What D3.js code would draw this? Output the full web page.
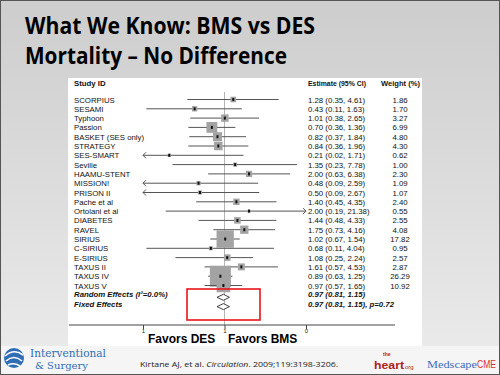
<!DOCTYPE html>
<html>
<head>
<meta charset="utf-8">
<script src="https://cdn.jsdelivr.net/npm/d3@7"></script>
<style>
  body { margin: 0; }
  svg { display: block; }
  .lbl { font-family: "Liberation Sans Narrow", "Arial Narrow", "Liberation Sans", sans-serif; font-size: 7.8px; fill: #111; }
</style>
</head>
<body>
<div class="slide"></div>
<script>
var w = 500;
var h = 375;

// study data
const studies = ["SCORPIUS", "SESAMI", "Typhoon", "Passion", "BASKET (SES only)", "STRATEGY",
  "SES-SMART", "Seville", "HAAMU-STENT", "MISSION!", "PRISON II", "Pache et al", "Ortolani et al",
  "DIABETES", "RAVEL", "SIRIUS", "C-SIRIUS", "E-SIRIUS", "TAXUS II", "TAXUS IV", "TAXUS V"];
const estimates = [1.28, 0.43, 1.01, 0.70, 0.82, 0.84, 0.21, 1.35, 2.00, 0.48, 0.50, 1.40, 2.00,
  1.44, 1.75, 1.02, 0.68, 1.08, 1.61, 0.89, 0.97];
const lower = [0.35, 0.11, 0.38, 0.36, 0.37, 0.36, 0.02, 0.23, 0.63, 0.09, 0.09, 0.45, 0.19,
  0.48, 0.73, 0.67, 0.11, 0.25, 0.57, 0.63, 0.57];
const upper = [4.61, 1.63, 2.65, 1.36, 1.84, 1.96, 1.71, 7.78, 6.38, 2.59, 2.67, 4.35, 21.38,
  4.33, 4.16, 1.54, 4.04, 2.24, 4.53, 1.25, 1.65];
const weights = [1.86, 1.70, 3.27, 6.99, 4.80, 4.30, 0.62, 1.00, 2.30, 1.09, 1.07, 2.40, 0.55,
  2.55, 4.08, 17.82, 0.95, 2.57, 2.87, 26.29, 10.92];

// pooled effects
const pooledLabels = ["Random Effects (I\u00B2=0.0%)", "Fixed Effects"];
const pooledEst = [0.97, 0.97];
const pooledLower = [0.81, 0.81];
const pooledUpper = [1.15, 1.15];
const pooledText = ["0.97 (0.81, 1.15)", "0.97 (0.81, 1.15), p=0.72"];

const tickValues = [0.1, 1, 10];
const tickLabels = ["1", "1", "0"];

var svg = d3.select(".slide").append("svg")
    .attr("width", w)
    .attr("height", h);

// slide background
var defs = svg.append("defs");
var grad = defs.append("linearGradient").attr("id", "bg")
    .attr("x1", 0).attr("y1", 0).attr("x2", 0).attr("y2", 1);
grad.append("stop").attr("offset", "0%").attr("stop-color", "#cdcdcd");
grad.append("stop").attr("offset", "100%").attr("stop-color", "#ececec");

svg.append("rect").attr("width", w).attr("height", h).attr("fill", "url(#bg)");
svg.append("rect").attr("x", 0).attr("y", 346).attr("width", w).attr("height", 29).attr("fill", "#f5f5f5");
svg.append("rect").attr("x", 68).attr("y", 78).attr("width", 354).attr("height", 268).attr("fill", "#fff");

// title
var title = svg.append("g")
    .style("font-family", "'Open Sans', 'Liberation Sans', sans-serif")
    .style("font-weight", "bold")
    .style("font-size", "23px")
    .attr("fill", "#000");
title.append("text").attr("x", 25).attr("y", 34)
    .attr("textLength", 290).attr("lengthAdjust", "spacingAndGlyphs")
    .text("What We Know: BMS vs DES");
title.append("text").attr("x", 25).attr("y", 64)
    .attr("textLength", 262).attr("lengthAdjust", "spacingAndGlyphs")
    .text("Mortality \u2013 No Difference");

// forest plot
var x = d3.scaleLog().domain([0.1, 10]).range([143, 306]);
var y = d3.scaleLinear().domain([0, 1]).range([99.5, 108.8]);
var boxSize = d3.scaleSqrt().domain([0, 26.29]).range([0, 21]);

var plot = svg.append("g");

plot.append("text").attr("class", "lbl").attr("x", 74).attr("y", 86)
    .style("font-weight", "bold").text("Study ID");
plot.append("text").attr("class", "lbl").attr("x", 308).attr("y", 86)
    .attr("textLength", 58).attr("lengthAdjust", "spacingAndGlyphs")
    .style("font-weight", "bold").text("Estimate (95% CI)");
plot.append("text").attr("class", "lbl").attr("x", 381).attr("y", 86)
    .attr("textLength", 39).attr("lengthAdjust", "spacingAndGlyphs")
    .style("font-weight", "bold").text("Weight (%)");

// line of no effect
plot.append("line")
    .attr("x1", x(1)).attr("x2", x(1))
    .attr("y1", 92).attr("y2", 325)
    .attr("stroke", "#b4b4b4").attr("stroke-width", 1);

var rows = plot.selectAll(".row")
    .data(studies)
    .enter().append("g")
    .attr("class", "row")
    .attr("transform", (d, i) => "translate(0," + y(i) + ")");

rows.append("text").attr("class", "lbl").attr("x", 74).attr("y", 3).text(d => d);

rows.append("line")
    .attr("x1", (d, i) => x(Math.max(lower[i], 0.1)))
    .attr("x2", (d, i) => x(Math.min(upper[i], 10)))
    .attr("stroke", "#555").attr("stroke-width", 1);

// arrows for clipped intervals
rows.filter((d, i) => lower[i] < 0.1).append("path")
    .attr("d", "M" + (x(0.1) + 3) + ",-3L" + x(0.1) + ",0L" + (x(0.1) + 3) + ",3")
    .attr("fill", "none").attr("stroke", "#555");
rows.filter((d, i) => upper[i] > 10).append("path")
    .attr("d", "M" + (x(10) - 3) + ",-3L" + x(10) + ",0L" + (x(10) - 3) + ",3")
    .attr("fill", "none").attr("stroke", "#555");

rows.append("rect")
    .attr("x", (d, i) => x(estimates[i]) - boxSize(weights[i]) / 2)
    .attr("y", (d, i) => -boxSize(weights[i]) / 2)
    .attr("width", (d, i) => boxSize(weights[i]))
    .attr("height", (d, i) => boxSize(weights[i]))
    .attr("fill", "#a3a3a3");

rows.append("rect")
    .attr("x", (d, i) => x(estimates[i]) - 1)
    .attr("y", -1.5)
    .attr("width", 2).attr("height", 3)
    .attr("fill", "#111");

rows.append("text").attr("class", "lbl").attr("x", 308).attr("y", 3)
    .text((d, i) => estimates[i].toFixed(2) + " (" + lower[i].toFixed(2) + ", " + upper[i].toFixed(2) + ")");
rows.append("text").attr("class", "lbl").attr("x", 400).attr("y", 3)
    .attr("text-anchor", "middle")
    .text((d, i) => weights[i].toFixed(2));

// pooled rows
var pooled = plot.selectAll(".pooled")
    .data(pooledLabels)
    .enter().append("g")
    .attr("class", "pooled")
    .attr("transform", (d, i) => "translate(0," + (y(studies.length + i) - 0.5) + ")");

pooled.append("text").attr("class", "lbl").attr("x", 74).attr("y", 3)
    .style("font-weight", "bold").style("font-style", "italic").text(d => d);
pooled.append("text").attr("class", "lbl").attr("x", 308).attr("y", 3)
    .style("font-weight", "bold").style("font-style", "italic").text((d, i) => pooledText[i]);
pooled.append("path")
    .attr("d", (d, i) => "M" + x(pooledLower[i]) + ",3L" + x(pooledEst[i]) + ",0L" +
      x(pooledUpper[i]) + ",3L" + x(pooledEst[i]) + ",6Z")
    .attr("fill", "#fff").attr("stroke", "#111").attr("stroke-width", 0.8);

// highlight box
plot.append("rect")
    .attr("x", 187).attr("y", 289).attr("width", 73).attr("height", 31)
    .attr("fill", "none").attr("stroke", "#e8141b").attr("stroke-width", 1.6);

// axis
plot.append("line").attr("x1", 69).attr("x2", 395).attr("y1", 325).attr("y2", 325)
    .attr("stroke", "#444").attr("stroke-width", 1);
var axis = plot.append("g").attr("transform", "translate(0,325)")
    .call(d3.axisBottom(x).tickValues(tickValues).tickSize(4)
      .tickFormat((d, i) => tickLabels[i]));
axis.select(".domain").remove();
axis.selectAll("line").attr("stroke", "#444");
axis.selectAll("text").attr("font-size", 6).attr("fill", "#222").attr("dy", "0.2em")
    .attr("font-family", "'Liberation Sans', sans-serif");

var favors = plot.append("g")
    .style("font-family", "'Liberation Sans', Arial, sans-serif")
    .style("font-weight", "bold").style("font-size", "12px");
favors.append("text").attr("x", 148).attr("y", 343).text("Favors DES");
favors.append("text").attr("x", 228).attr("y", 343).text("Favors BMS");

// citation
var cite = svg.append("text")
    .attr("x", 140).attr("y", 367)
    .style("font-family", "'Open Sans', 'Liberation Sans', sans-serif")
    .style("font-size", "8px").attr("fill", "#222")
    .attr("textLength", 198).attr("lengthAdjust", "spacingAndGlyphs");
cite.append("tspan").text("Kirtane AJ, et al. ");
cite.append("tspan").style("font-style", "italic").text("Circulation");
cite.append("tspan").text(". 2009;119:3198-3206.");

// logos
var logo = svg.append("g");
logo.append("circle").attr("cx", 14).attr("cy", 358).attr("r", 10).attr("fill", "#2f6db5");
logo.append("path").attr("d", "M5,356 Q14,348 23,355 M6,361 Q14,354 22,361 M8,365 Q14,362 20,366")
    .attr("fill", "none").attr("stroke", "#fff").attr("stroke-width", 1.6);
logo.append("text").attr("x", 30).attr("y", 357)
    .style("font-family", "'DejaVu Serif', serif").style("font-size", "11px")
    .attr("fill", "#2f6db5").attr("textLength", 76).attr("lengthAdjust", "spacingAndGlyphs")
    .text("Interventional");
logo.append("text").attr("x", 35).attr("y", 369)
    .style("font-family", "'DejaVu Serif', serif").style("font-size", "10px")
    .attr("fill", "#2f6db5").attr("textLength", 53).attr("lengthAdjust", "spacingAndGlyphs")
    .text("& Surgery");

logo.append("text").attr("x", 383).attr("y", 356)
    .style("font-family", "'Liberation Sans', sans-serif").style("font-size", "5px")
    .attr("fill", "#b01b1b").style("font-weight", "bold").text("the");
logo.append("text").attr("x", 374).attr("y", 369)
    .style("font-family", "'Liberation Sans', sans-serif").style("font-size", "11px")
    .style("font-weight", "bold").attr("fill", "#b01b1b")
    .attr("textLength", 30).attr("lengthAdjust", "spacingAndGlyphs").text("heart");
logo.append("text").attr("x", 405).attr("y", 369)
    .style("font-family", "'Liberation Sans', sans-serif").style("font-size", "6px")
    .attr("fill", "#b01b1b").text("org");
logo.append("text").attr("x", 427).attr("y", 368)
    .style("font-family", "'Liberation Serif', serif").style("font-size", "11px")
    .attr("fill", "#3e6fc0").attr("textLength", 50).attr("lengthAdjust", "spacingAndGlyphs")
    .text("Medscape");
logo.append("text").attr("x", 477).attr("y", 368)
    .style("font-family", "'Liberation Sans', sans-serif").style("font-size", "10px")
    .attr("fill", "#e0302a").attr("textLength", 19).attr("lengthAdjust", "spacingAndGlyphs")
    .text("CME");

// slide border
svg.append("rect").attr("x", 0.5).attr("y", 0.5).attr("width", w - 1).attr("height", h - 1)
    .attr("fill", "none").attr("stroke", "#555");
</script>
</body>
</html>
